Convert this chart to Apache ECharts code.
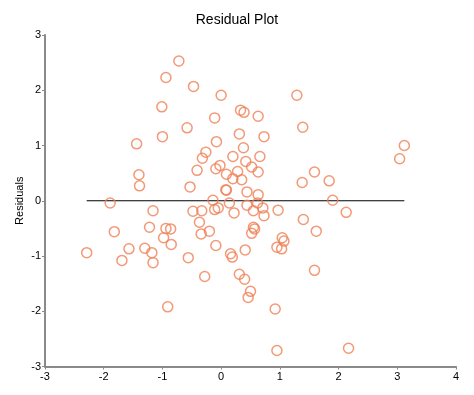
<!DOCTYPE html>
<html><head><meta charset="utf-8">
<script src="https://cdn.jsdelivr.net/npm/echarts@6/dist/echarts.min.js"></script>
<style>html,body{margin:0;padding:0;background:#fff}#c{width:474px;height:395px}</style>
</head><body><div id="c"></div>
<script>
const xs = [-0.72,-0.94,-1.01,-1.0,-1.44,-0.47,0.0,1.29,0.33,0.39,0.63,-0.11,-0.58,1.39,0.31,0.73,-0.08,0.38,3.12,
-1.40,-1.39,-1.89,-1.16,-1.82,-1.22,-0.94,-0.86,-0.98,-0.85,-1.57,-1.30,-1.18,-2.29,-1.69,-1.16,-0.91,
-0.26,-0.32,0.20,0.66,0.42,0.52,-0.02,-0.09,-0.41,0.28,0.63,0.09,0.20,0.35,-0.53,0.08,0.09,0.44,0.63,
-0.14,0.14,0.62,0.44,-0.05,-0.11,0.71,0.55,-0.48,-0.33,0.22,0.97,0.73,-0.37,1.40,0.55,0.57,0.52,-0.34,
-0.20,1.62,1.04,1.07,-0.09,0.95,1.03,0.41,-0.56,0.16,0.19,1.59,-0.28,0.31,0.40,0.50,0.46,0.92,0.95,2.17,
3.04,1.59,1.84,1.90,2.13,1.38];
const ys = [2.53,2.23,1.70,1.16,1.03,2.07,1.91,1.91,1.64,1.60,1.53,1.50,1.32,1.33,1.21,1.16,1.07,0.96,1.0,
0.47,0.27,-0.04,-0.18,-0.56,-0.48,-0.50,-0.51,-0.67,-0.79,-0.87,-0.86,-0.94,-0.94,-1.08,-1.12,-1.92,
0.88,0.77,0.80,0.80,0.71,0.61,0.64,0.58,0.55,0.53,0.52,0.48,0.40,0.38,0.25,0.20,0.19,0.16,0.11,
0.01,-0.04,-0.04,-0.08,-0.13,-0.16,-0.13,-0.18,-0.19,-0.18,-0.22,-0.17,-0.27,-0.39,-0.34,-0.48,-0.51,-0.59,-0.60,
-0.55,-0.55,-0.67,-0.73,-0.81,-0.84,-0.87,-0.89,-1.03,-0.96,-1.02,-1.26,-1.37,-1.33,-1.42,-1.64,-1.75,-1.96,-2.71,-2.67,
0.76,0.52,0.36,0.01,-0.21,0.33];
const xTicks = [-3,-2,-1,0,1,2,3,4];
const yTicks = [-3,-2,-1,0,1,2,3];
const pts = xs.map((x,i)=>[x,ys[i]]);
const xmin = Math.min(...xs), xmax = Math.max(...xs);
const font = "'Liberation Sans', Arial, Helvetica, sans-serif";
const chart = echarts.init(document.getElementById('c'));
chart.setOption({
  animation:false,
  title:{text:'Residual Plot',left:'center',top:8,textStyle:{fontFamily:font,fontSize:14,fontWeight:'normal',color:'#000'}},
  grid:{left:45,right:18,top:35,bottom:28.5},
  xAxis:{type:'value',min:xTicks[0],max:xTicks[xTicks.length-1],interval:1,
    axisLine:{onZero:false,lineStyle:{color:'#8a8a8a',width:2}},axisTick:{show:true,length:3,lineStyle:{color:'#8a8a8a'}},
    axisLabel:{color:'#000',fontSize:11,fontFamily:font,margin:5},splitLine:{show:false}},
  yAxis:{type:'value',min:yTicks[0],max:yTicks[yTicks.length-1],interval:1,name:'Residuals',nameLocation:'middle',nameGap:20,
    nameMoveOverlap:false,
    nameTextStyle:{fontFamily:font,fontSize:11,color:'#000'},
    axisLine:{show:true,onZero:false,lineStyle:{color:'#8a8a8a',width:2}},axisTick:{show:true,length:3,lineStyle:{color:'#8a8a8a'}},
    axisLabel:{color:'#000',fontSize:11,fontFamily:font,margin:4},splitLine:{show:false}},
  series:[
    {type:'line',data:[[xmin,0],[xmax,0]],symbol:'none',lineStyle:{color:'#000',width:1},z:1},
    {type:'scatter',data:pts,symbol:'circle',symbolSize:10,
     itemStyle:{color:'rgba(255,255,255,0)',borderColor:'#ef8055',borderWidth:1.5},z:2}
  ]
});
</script></body></html>
